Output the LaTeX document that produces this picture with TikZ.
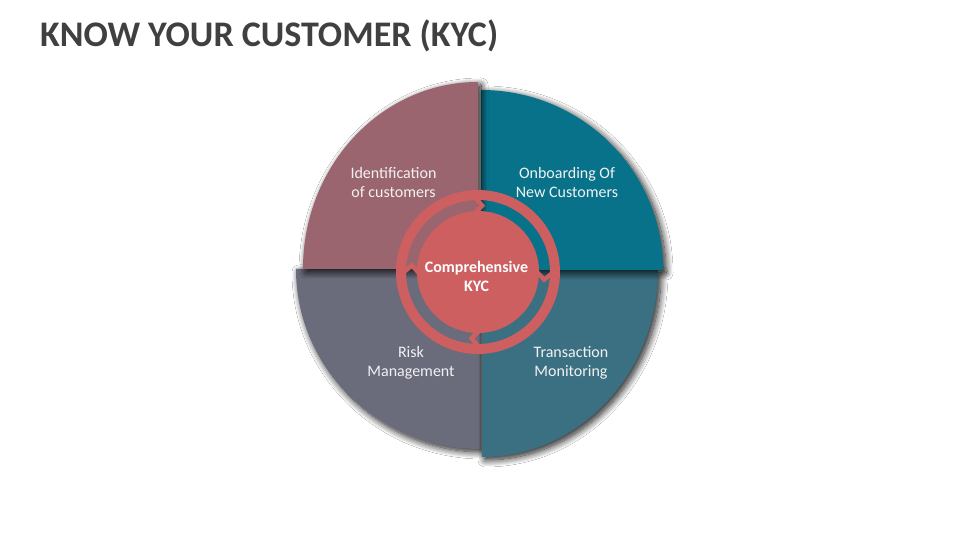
\documentclass[tikz,border=0pt]{standalone}
\usepackage{fontspec}
\setmainfont{Carlito}
\usetikzlibrary{shadows.blur}
\definecolor{qtl}{HTML}{9A656E}
\definecolor{qtr}{HTML}{08728A}
\definecolor{qbl}{HTML}{6A6B7B}
\definecolor{qbr}{HTML}{3A7082}
\definecolor{ringc}{HTML}{CD5F60}
\definecolor{labeltext}{HTML}{F2F2F2}
\definecolor{titlegray}{HTML}{404040}
\begin{document}
\begin{tikzpicture}[x=1pt,y=1pt,
  quad/.style={blur shadow={shadow xshift=3pt,shadow yshift=-3pt,shadow blur radius=7pt,shadow opacity=90,shadow blur steps=14}},
  lbl/.style={text=labeltext,font=\fontsize{16}{19}\selectfont,align=center,inner sep=0pt},
  ctr/.style={text=white,font=\fontsize{16}{19}\selectfont\bfseries,align=center,inner sep=0pt},
  ringfill/.style={fill=ringc}]
\useasboundingbox (0,0) rectangle (960,540);
\fill[white] (0,0) rectangle (960,540);

% title
\node[anchor=base west,inner sep=0pt,text=titlegray,font=\fontsize{36}{43}\selectfont\bfseries] (title) at (40,493) {KNOW YOUR CUSTOMER (KYC)};

% quadrants (bottom to top)
\path[fill=qbl,quad] (480,271) -- (296,271) arc[start angle=180,end angle=270,x radius=184,y radius=180] -- cycle;
\path[fill=qbr,quad] (482,270) -- (482,83) arc[start angle=270,end angle=360,x radius=176,y radius=187] -- cycle;
\path[fill=qtr,quad] (481,270) -- (663,270) arc[start angle=0,end angle=90,x radius=182,y radius=180] -- cycle;
\path[fill=qtl,quad] (478,271) -- (478,458) arc[start angle=90,end angle=180,x radius=175,y radius=187] -- cycle;

% central ring with circular arrows
\coordinate (c) at (478,268);
\fill[ringfill,even odd rule] (c) circle[radius=82] circle[radius=72];
\fill[ringfill] (c) circle[radius=61];
\foreach \a in {89,-4,-93,177}{
  \fill[ringfill,shift={(c)},rotate=\a] (60,6) -- (66.5,0) -- (73,6) -- (73,0) -- (66.5,-6) -- (60,0) -- cycle;
}

% labels
\node[lbl] (tl) at (393.5,357) {Identification\\of customers};
\node[lbl] (tr) at (567,357) {Onboarding Of\\New Customers};
\node[lbl] (bl) at (411,177) {Risk\\Management};
\node[lbl] (br) at (571,177) {Transaction\\Monitoring};
\node[ctr] (kyc) at (476.5,263.5) {Comprehensive\\KYC};
\end{tikzpicture}
\end{document}
